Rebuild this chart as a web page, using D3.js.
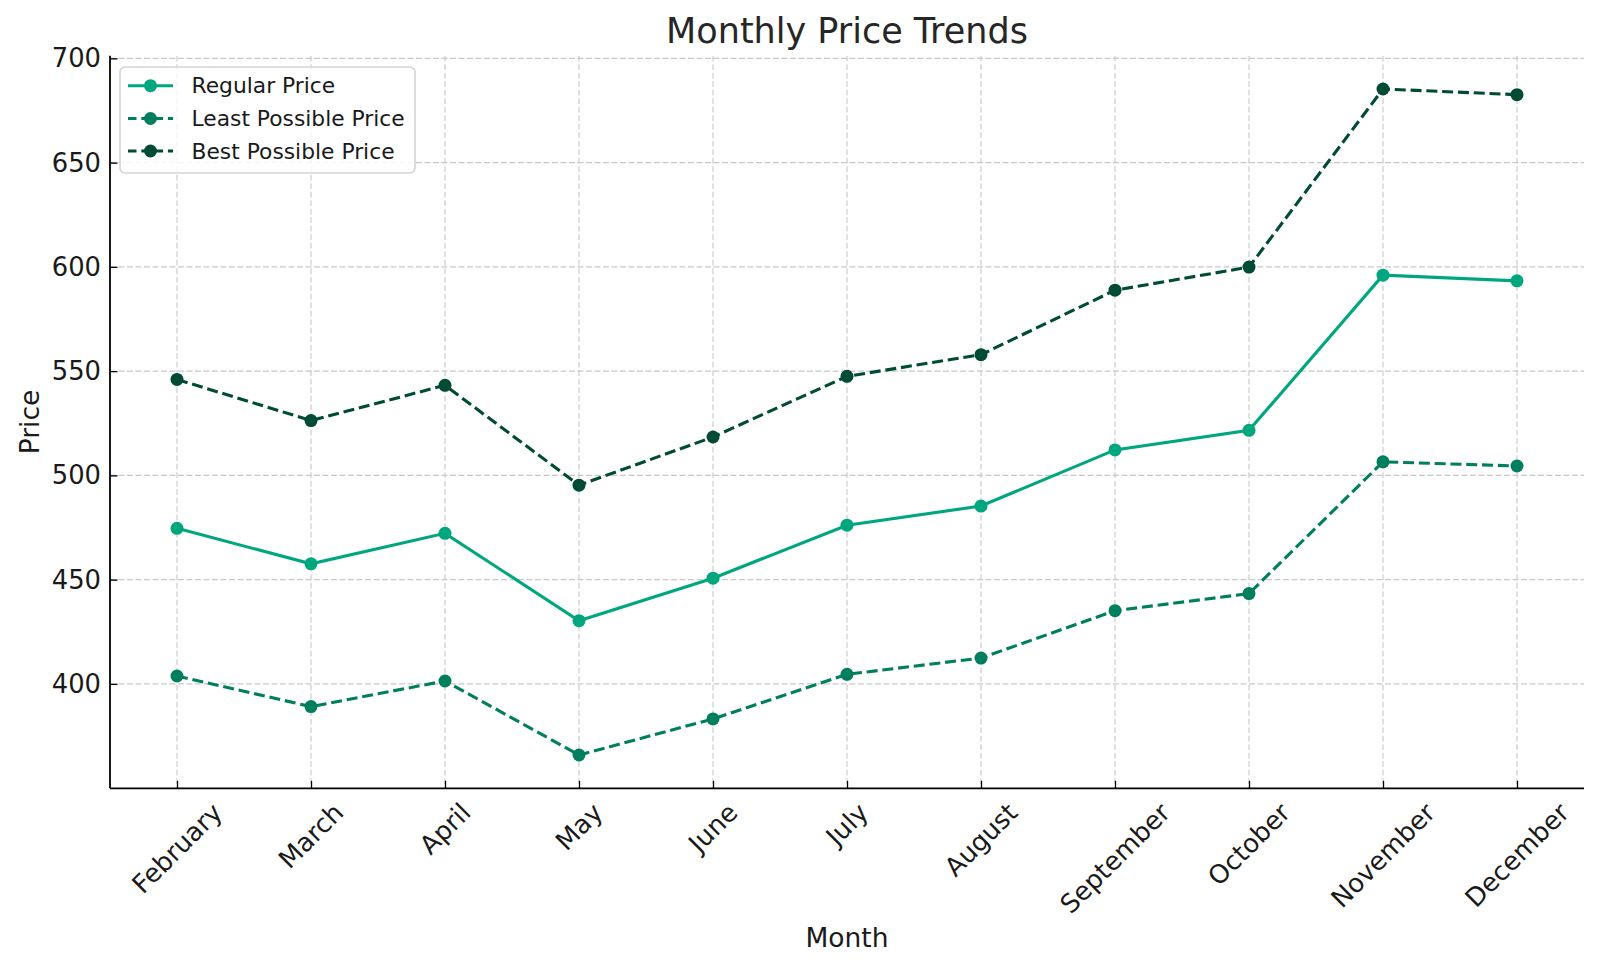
<!DOCTYPE html>
<html>
<head>
<meta charset="utf-8">
<script src="https://cdn.jsdelivr.net/npm/d3@7"></script>
<style>
  html, body { margin: 0; padding: 0; background: #ffffff; }
  svg { display: block; font-family: "DejaVu Sans", sans-serif; }
</style>
</head>
<body>
<svg id="chart" width="1600" height="969"></svg>
<script>
// ---- data ----
const months = ["February","March","April","May","June","July","August","September","October","November","December"];
const regularPrice = [474.6, 457.6, 472.2, 430.3, 450.7, 476.1, 485.3, 512.2, 521.6, 596.0, 593.3];
const leastPrice   = [403.8, 389.1, 401.4, 365.9, 383.2, 404.6, 412.4, 435.1, 443.3, 506.5, 504.5];
const bestPrice    = [546.0, 526.3, 543.2, 495.3, 518.4, 547.5, 557.9, 588.8, 599.9, 685.3, 682.6];
const yTicks = [400, 450, 500, 550, 600, 650, 700];
const seriesNames = ["Regular Price", "Least Possible Price", "Best Possible Price"];

const series = [
  { name: seriesNames[0], values: regularPrice, color: "#00A67E", dash: null },
  { name: seriesNames[1], values: leastPrice,   color: "#007F5F", dash: "11,4.8" },
  { name: seriesNames[2], values: bestPrice,    color: "#004B35", dash: "11,4.8" }
];

// ---- layout ----
const W = 1600, H = 969;
const plot = { left: 110, right: 1584, top: 55.7, bottom: 788.3 };
const svg = d3.select("#chart");

const x = d3.scaleLinear()
  .domain([-0.5, months.length - 0.5])
  .range([plot.left, plot.right]);

const allVals = regularPrice.concat(leastPrice, bestPrice);
const yMin = d3.min(allVals), yMax = d3.max(allVals);
const pad = (yMax - yMin) * 0.05;
const y = d3.scaleLinear()
  .domain([yMin - pad, yMax + pad])
  .range([plot.bottom, plot.top]);

// grid
const grid = svg.append("g");
grid.selectAll("line.gx").data(months).enter().append("line")
  .attr("x1", (d, i) => x(i)).attr("x2", (d, i) => x(i))
  .attr("y1", plot.top).attr("y2", plot.bottom)
  .attr("stroke", "#c8c8c8").attr("stroke-width", 1.1).attr("stroke-dasharray", "5.9,2.6");
grid.selectAll("line.gy").data(yTicks).enter().append("line")
  .attr("x1", plot.left).attr("x2", plot.right)
  .attr("y1", d => y(d)).attr("y2", d => y(d))
  .attr("stroke", "#c8c8c8").attr("stroke-width", 1.1).attr("stroke-dasharray", "5.9,2.6");

// axes (ticks inward)
const xAxis = d3.axisBottom(x)
  .tickValues(d3.range(months.length))
  .tickSize(-7.5).tickFormat("");
const gx = svg.append("g").attr("transform", `translate(0,${plot.bottom})`).call(xAxis);
gx.select(".domain").attr("d", `M${plot.left},0H${plot.right}`).attr("stroke", "#000").attr("stroke-width", 1.8);
gx.selectAll(".tick line").attr("stroke", "#000").attr("stroke-width", 1.3);

const yAxis = d3.axisLeft(y).tickValues(yTicks).tickSize(-7.5).tickFormat("");
const gy = svg.append("g").attr("transform", `translate(${plot.left},0)`).call(yAxis);
gy.select(".domain").attr("d", `M0,${plot.top}V${plot.bottom}`).attr("stroke", "#000").attr("stroke-width", 1.8);
gy.selectAll(".tick line").attr("stroke", "#000").attr("stroke-width", 1.3);

// y tick labels
svg.append("g").selectAll("text").data(yTicks).enter().append("text")
  .attr("x", 101).attr("y", d => y(d))
  .attr("text-anchor", "end").attr("dominant-baseline", "central")
  .attr("font-size", 25.8).attr("fill", "#1a1a1a")
  .text(d => d);

// x tick labels, rotated 45 and centered under tick
const xl = svg.append("g").selectAll("text").data(months).enter().append("text")
  .attr("text-anchor", "middle").attr("dominant-baseline", "central")
  .attr("font-size", 25.8).attr("fill", "#1a1a1a")
  .text(d => d);
xl.each(function(d, i) {
  const w = this.getComputedTextLength();
  const cx = x(i);
  const cy = 798 + (w + 28) * Math.SQRT1_2 / 2;
  d3.select(this).attr("x", cx).attr("y", cy)
    .attr("transform", `rotate(-45,${cx},${cy})`);
});

// axis labels & title
svg.append("text").attr("x", (plot.left + plot.right) / 2).attr("y", 947)
  .attr("text-anchor", "middle").attr("font-size", 26.5).attr("fill", "#1a1a1a").text("Month");
svg.append("text")
  .attr("transform", `translate(39,${(plot.top + plot.bottom) / 2}) rotate(-90)`)
  .attr("text-anchor", "middle").attr("font-size", 26.5).attr("fill", "#1a1a1a").text("Price");
svg.append("text").attr("x", (plot.left + plot.right) / 2).attr("y", 42.5)
  .attr("text-anchor", "middle").attr("font-size", 35).attr("fill", "#262626").text("Monthly Price Trends");

// lines and markers
const line = d3.line().x((d, i) => x(i)).y(d => y(d));
const gs = svg.append("g");
series.forEach(s => {
  gs.append("path").datum(s.values)
    .attr("d", line).attr("fill", "none")
    .attr("stroke", s.color).attr("stroke-width", 3.1)
    .attr("stroke-dasharray", s.dash);
  gs.selectAll(null).data(s.values).enter().append("circle")
    .attr("cx", (d, i) => x(i)).attr("cy", d => y(d)).attr("r", 6.5)
    .attr("fill", s.color);
});

// legend
const lg = svg.append("g");
lg.append("rect").attr("x", 120).attr("y", 67).attr("width", 295).attr("height", 106)
  .attr("rx", 5).attr("ry", 5)
  .attr("fill", "#ffffff").attr("fill-opacity", 0.8)
  .attr("stroke", "#d4d4d4").attr("stroke-width", 1.6);
const rowY = [85.7, 118.5, 151];
series.forEach((s, k) => {
  lg.append("line").attr("x1", 128).attr("x2", 173).attr("y1", rowY[k]).attr("y2", rowY[k])
    .attr("stroke", s.color).attr("stroke-width", 3.1).attr("stroke-dasharray", s.dash ? "8.5,4.8" : null);
  lg.append("circle").attr("cx", 150.5).attr("cy", rowY[k]).attr("r", 6.5).attr("fill", s.color);
  lg.append("text").attr("x", 191.5).attr("y", rowY[k]).attr("dominant-baseline", "central")
    .attr("font-size", 21.8).attr("fill", "#1a1a1a").text(s.name);
});
</script>
</body>
</html>
